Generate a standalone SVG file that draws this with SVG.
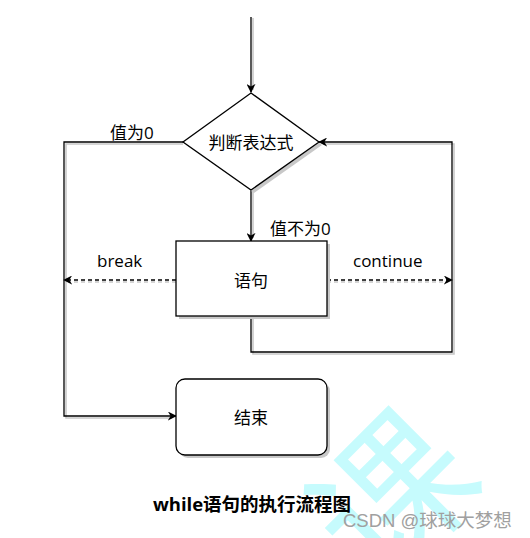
<svg xmlns="http://www.w3.org/2000/svg" width="530" height="538" viewBox="0 0 530 538">
<defs>
<style>
.ln{fill:none;stroke:#000;stroke-width:1.3}
.sh{fill:none;stroke:#c8c8c8;stroke-width:1.6}
.dash{stroke-dasharray:4 3}
.box{fill:#fff;stroke:#000;stroke-width:1.3}
.boxsh{fill:#c8c8c8;stroke:none}
.t{font-family:"Open Sans","Noto Sans CJK SC",sans-serif;font-size:17px;fill:#000}
.c{text-anchor:middle;dominant-baseline:central}
</style>
<marker id="ah" viewBox="0 0 10 10" refX="9" refY="5" markerWidth="9" markerHeight="9" orient="auto" markerUnits="userSpaceOnUse">
<path d="M0,0 L10,5 L0,10 L3,5 Z" fill="#000"/>
</marker>
</defs>
<rect width="530" height="538" fill="#fff"/>
<text x="385" y="488" font-family="Noto Sans CJK SC,sans-serif" font-size="155" fill="#c6fbfd" text-anchor="middle" dominant-baseline="central" transform="rotate(-45 385 488)">课</text>
<g id="connectors">
<path class="sh" d="M253,18 V90"/>
<path class="ln" d="M251,17 V92" marker-end="url(#ah)"/>
<path class="sh" d="M253,192 V238"/>
<path class="ln" d="M251,190 V241" marker-end="url(#ah)"/>
<path class="sh" d="M183,144 H66 V418 H172"/>
<path class="ln" d="M183,142 H64 V416 H176" marker-end="url(#ah)"/>
<path class="sh dash" d="M176,282 H68"/>
<path class="ln dash" d="M176,280 H64" marker-end="url(#ah)"/>
<path class="sh dash" d="M327,282 H448"/>
<path class="ln dash" d="M327,280 H452" marker-end="url(#ah)"/>
<path class="sh" d="M253,318 V354 H454 V144 H323"/>
<path class="ln" d="M251,316 V352 H452 V142 H319" marker-end="url(#ah)"/>
</g>
<g id="decision">
<path class="boxsh" d="M253,95 L321,144 L253,192 L185,144 Z" transform="translate(1,1)"/>
<path class="box" d="M251,93 L319,142 L251,190 L183,142 Z"/>
<text class="t c" x="251" y="142">判断表达式</text>
</g>
<g id="statement">
<rect class="boxsh" x="179" y="244" width="151" height="75"/>
<rect class="box" x="176" y="241" width="151" height="75"/>
<text class="t c" x="251" y="280">语句</text>
</g>
<g id="end">
<rect class="boxsh" x="179" y="382" width="151" height="76" rx="9"/>
<rect class="box" x="176" y="379" width="151" height="76" rx="9"/>
<text class="t c" x="251" y="417">结束</text>
</g>
<g id="labels">
<text class="t" x="110" y="139">值为0</text>
<text class="t" x="270" y="235">值不为0</text>
<text class="t" x="97" y="267">break</text>
<text class="t" x="353" y="267">continue</text>
</g>
<text x="252" y="511" font-family="Open Sans,Noto Sans CJK SC,sans-serif" font-size="18.5" font-weight="bold" text-anchor="middle" fill="#000">while语句的执行流程图</text>
<text x="343" y="527" font-family="Liberation Sans,Noto Sans CJK SC,sans-serif" font-size="18.5" fill="#a0a0a0">CSDN @球球大梦想</text>
</svg>
